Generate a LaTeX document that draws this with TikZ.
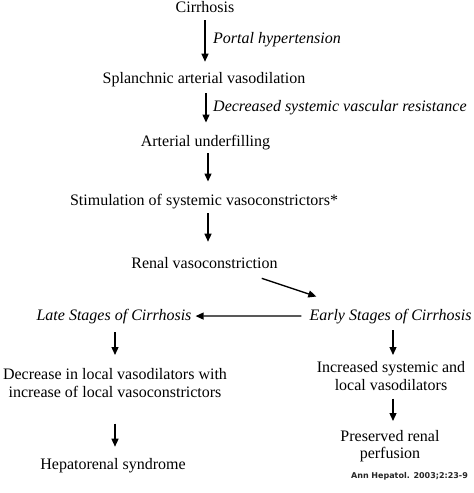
\documentclass[tikz,border=0pt]{standalone}
\usepackage{fontspec}
\setmainfont{Liberation Serif}
\newfontfamily\notefont{DejaVu Sans}
\usetikzlibrary{arrows.meta}
\begin{document}
\begin{tikzpicture}[x=1pt,y=-1pt,
  txt/.style={inner sep=0pt,font=\fontsize{16}{18}\selectfont},
  lbl/.style={inner sep=0pt,font=\fontsize{16}{18}\selectfont\itshape},
  multi/.style={inner sep=0pt,align=center,font=\fontsize{16}{18}\selectfont},
  arr/.style={line width=1.3pt,-{Triangle[length=8pt,width=7pt]}}]
\useasboundingbox (0,0) rectangle (474,493);
\fill[white] (0,0) rectangle (474,493);
\node[txt,anchor=base] (cirr) at (205,12) {Cirrhosis};
\node[lbl,anchor=base west] (portal) at (213,43) {Portal hypertension};
\node[txt,anchor=base] (splan) at (204,83) {Splanchnic arterial vasodilation};
\node[lbl,anchor=base west] (decr) at (213,111) {Decreased systemic vascular resistance};
\node[txt,anchor=base] (under) at (205.5,146) {Arterial underfilling};
\node[txt,anchor=base] (stim) at (204,205) {Stimulation of systemic vasoconstrictors*};
\node[txt,anchor=base] (renal) at (204.5,268) {Renal vasoconstriction};
\node[lbl,anchor=base] (late) at (114,320) {Late Stages of Cirrhosis};
\node[lbl,anchor=base] (early) at (390.5,320) {Early Stages of Cirrhosis};
\node[multi,anchor=north] (dec) at (115,368) {Decrease in local vasodilators with\\increase of local vasoconstrictors};
\node[txt,anchor=base] (hep) at (113,469) {Hepatorenal syndrome};
\node[multi,anchor=north] (incr) at (391,361) {Increased systemic and\\local vasodilators};
\node[multi,anchor=north,font=\fontsize{16}{17}\selectfont] (pres) at (390,430) {Preserved renal\\perfusion};
\node[inner sep=0pt,anchor=base east,text=black!85,font=\notefont\bfseries\fontsize{8}{9}\selectfont] (note) at (468,478) {Ann Hepatol. 2003;2:23-9};

\draw[arr,shorten <=8pt,shorten >=10pt] (cirr.south) -- (cirr.south |- splan.north);
\draw[arr,shorten <=6.5pt,shorten >=12pt] ([xshift=2pt]splan.south) -- ([xshift=2pt]splan.south |- under.north);
\draw[arr,shorten <=3.5pt,shorten >=12pt] ([xshift=2.5pt]under.south) -- ([xshift=2.5pt]under.south |- stim.north);
\draw[arr,shorten <=4.5pt,shorten >=15pt] ([xshift=4pt]stim.south) -- ([xshift=4pt]stim.south |- renal.north);
\draw[arr] ([xshift=-16pt,yshift=-10pt]renal.south east) -- ([xshift=7pt,yshift=12pt]early.north west);
\draw[arr,shorten <=8pt,shorten >=4pt] (early.west) -- (late.east);
\draw[arr,shorten <=8.5pt,shorten >=13pt] ([xshift=1pt]late.south) -- ([xshift=1pt]late.south |- dec.north);
\draw[arr,shorten <=6.5pt,shorten >=6pt] ([xshift=2.5pt]early.south) -- ([xshift=2.5pt]early.south |- incr.north);
\draw[arr,shorten <=26pt,shorten >=11pt] (dec.south) -- (dec.south |- hep.north);
\draw[arr,shorten <=8pt,shorten >=9pt] ([xshift=2pt]incr.south) -- ([xshift=2pt]incr.south |- pres.north);
\end{tikzpicture}
\end{document}
